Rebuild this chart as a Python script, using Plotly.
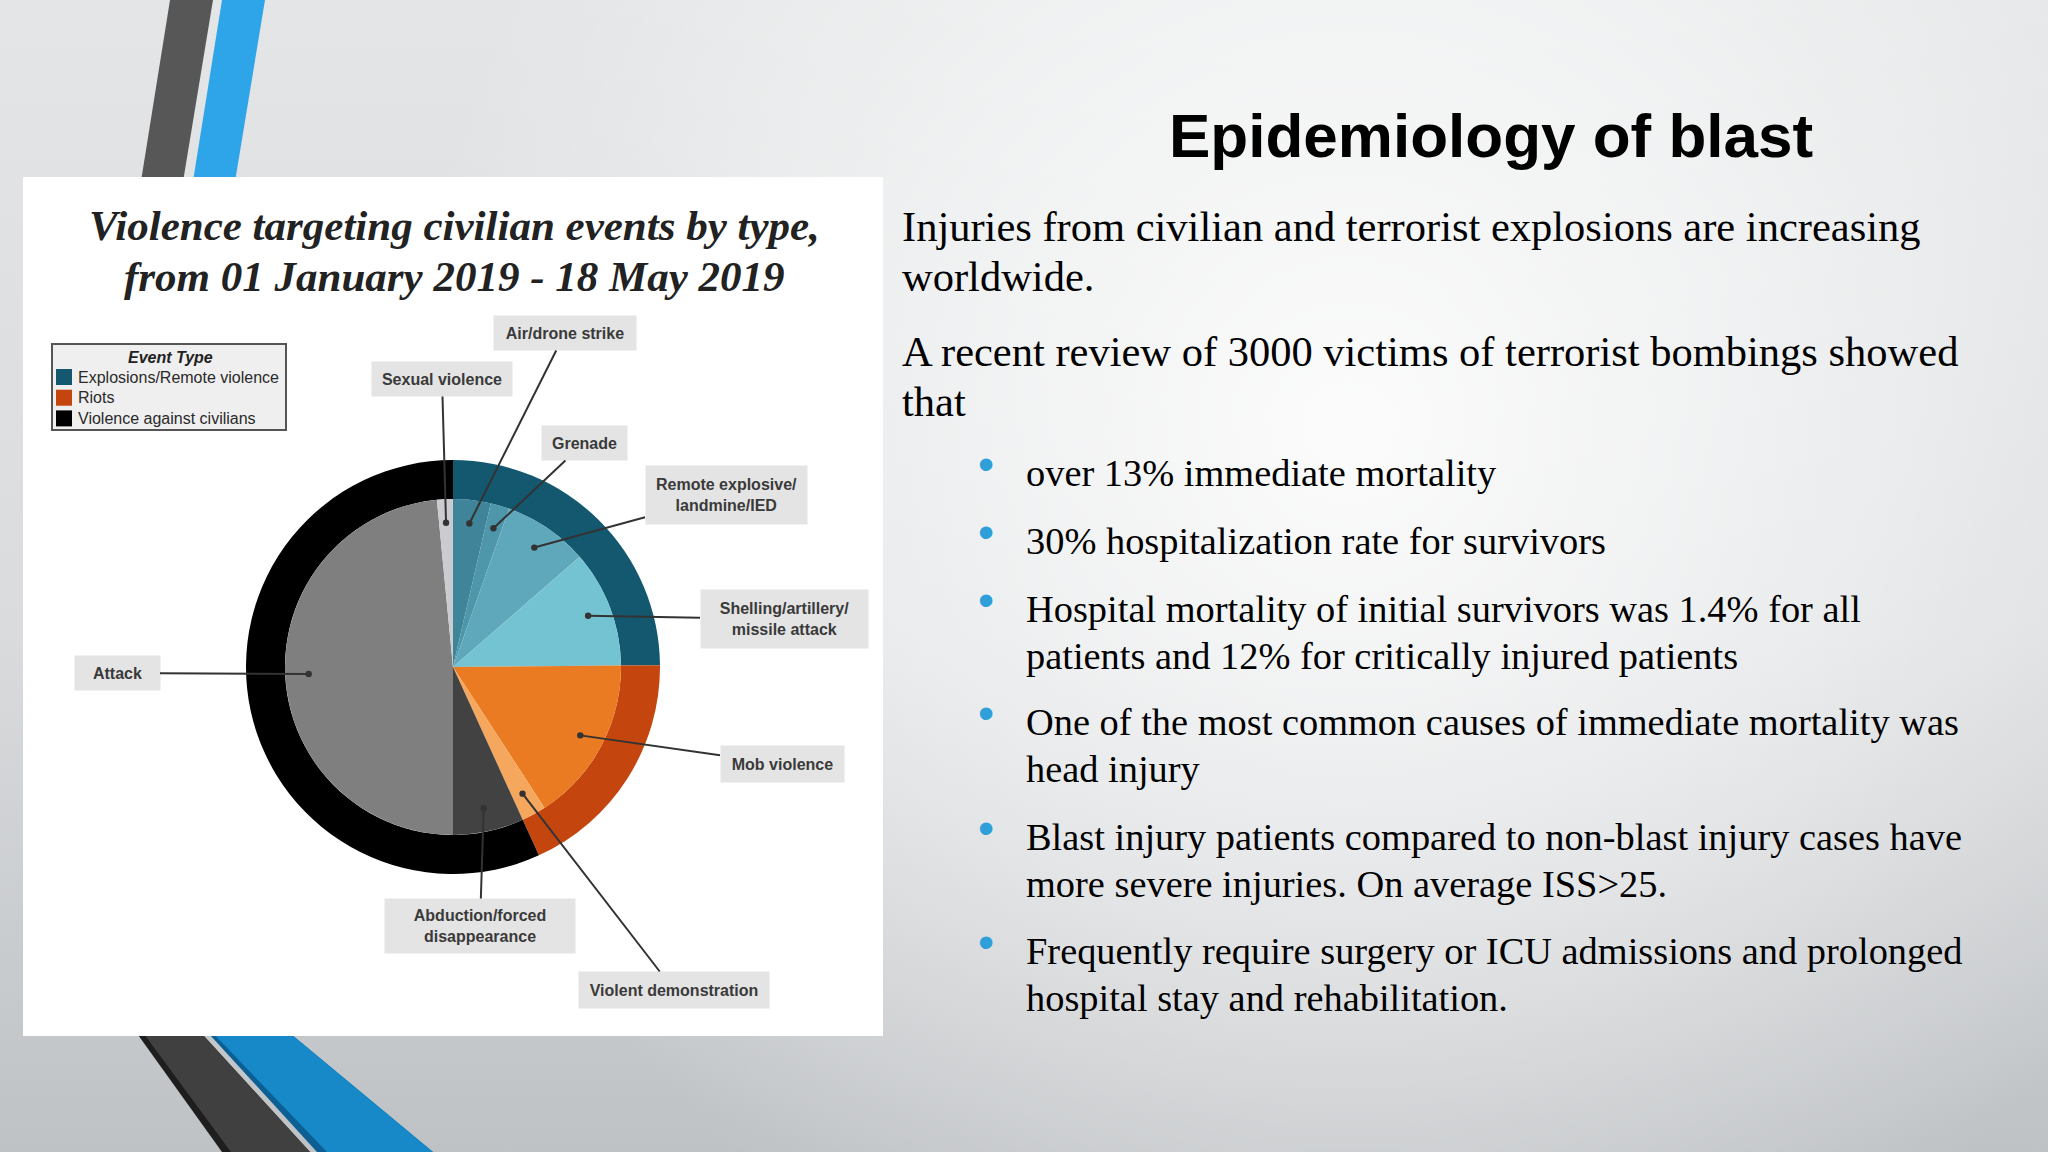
import math
import base64
import plotly.graph_objects as go

W, H = 2048, 1152

# ---------------- data ----------------
event_types = ["Explosions/Remote violence", "Riots", "Violence against civilians"]
event_colors = ["#14586f", "#c4460e", "#000000"]

sub_types = ["Air/drone strike", "Grenade", "Remote explosive/landmine/IED",
             "Shelling/artillery/missile attack", "Mob violence", "Violent demonstration",
             "Abduction/forced disappearance", "Attack", "Sexual violence"]
sub_labels = ["Air/drone strike", "Grenade", "Remote explosive/<br>landmine/IED",
              "Shelling/artillery/<br>missile attack", "Mob violence", "Violent demonstration",
              "Abduction/forced<br>disappearance", "Attack", "Sexual violence"]
sub_parent = ["Explosions/Remote violence"] * 4 + ["Riots"] * 2 + ["Violence against civilians"] * 3
sub_share = [3.61, 1.81, 8.19, 11.25, 15.97, 2.36, 6.81, 48.47, 1.53]
sub_colors = ["#3f8498", "#4e97aa", "#5fa8bb", "#74c3d3", "#ea7b22", "#f6a75e",
              "#424242", "#7f7f7f", "#cbcbd0"]

event_vals = [sum(v for v, p in zip(sub_share, sub_parent) if p == e) for e in event_types]

slide_title = "Epidemiology of blast"
chart_title = ["Violence targeting civilian events by type,", "from 01 January 2019 - 18 May 2019"]
para_lines = ["Injuries from civilian and terrorist explosions are increasing", "worldwide.",
              "A recent review of 3000 victims of terrorist bombings showed", "that"]
bullets = [
    ["over 13% immediate mortality"],
    ["30% hospitalization rate for survivors"],
    ["Hospital mortality of initial survivors was 1.4% for all", "patients and 12% for critically injured patients"],
    ["One of the most common causes of immediate mortality was", "head injury"],
    ["Blast injury patients compared to non-blast injury cases have", "more severe injuries. On average ISS&gt;25."],
    ["Frequently require surgery or ICU admissions and prolonged", "hospital stay and rehabilitation."],
]

# ---------------- layout geometry (pixels) ----------------
CX, CY = 453, 667
R_OUT, R_IN = 207, 168


def X(px):
    return px / W


def Y(py):
    return 1 - py / H


fig = go.Figure()

fig.add_trace(go.Pie(
    labels=event_types, values=event_vals, hole=R_IN / R_OUT, sort=False,
    direction="clockwise", rotation=0, textinfo="none", showlegend=False,
    marker=dict(colors=event_colors, line=dict(width=0)),
    domain=dict(x=[X(CX - R_OUT), X(CX + R_OUT)], y=[Y(CY + R_OUT), Y(CY - R_OUT)]),
))
fig.add_trace(go.Pie(
    labels=sub_types, values=sub_share, sort=False,
    direction="clockwise", rotation=0, textinfo="none", showlegend=False,
    marker=dict(colors=sub_colors, line=dict(width=0)),
    domain=dict(x=[X(CX - R_IN), X(CX + R_IN)], y=[Y(CY + R_IN), Y(CY - R_IN)]),
))

shapes = []
annotations = []

# background gradient
svg = f'''<svg xmlns="http://www.w3.org/2000/svg" width="{W}" height="{H}" viewBox="0 0 {W} {H}" preserveAspectRatio="none">
<defs>
<linearGradient id="lg" x1="0" y1="0" x2="0" y2="1">
<stop offset="0" stop-color="#e3e5e6"/><stop offset="0.55" stop-color="#d9dbdd"/><stop offset="1" stop-color="#bfc2c5"/>
</linearGradient>
<radialGradient id="rg" cx="1350" cy="430" r="950" gradientUnits="userSpaceOnUse">
<stop offset="0" stop-color="#ffffff" stop-opacity="0.9"/>
<stop offset="0.55" stop-color="#ffffff" stop-opacity="0.45"/>
<stop offset="1" stop-color="#ffffff" stop-opacity="0"/>
</radialGradient>
</defs>
<rect width="{W}" height="{H}" fill="url(#lg)"/>
<rect width="{W}" height="{H}" fill="url(#rg)"/>
</svg>'''
bg_src = "data:image/svg+xml;base64," + base64.b64encode(svg.encode()).decode()


def poly(pts, color):
    d = "M " + " L ".join(f"{X(a):.5f},{Y(b):.5f}" for a, b in pts) + " Z"
    shapes.append(dict(type="path", path=d, xref="paper", yref="paper",
                       fillcolor=color, line=dict(width=0), layer="below"))


# decorative stripes (top)
poly([(170, 0), (213, 0), (180, 200), (138, 200)], "#575757")
poly([(222, 0), (265, 0), (232, 200), (190, 200)], "#2ea5e8")
# decorative stripes (bottom)
poly([(113, 1000), (171, 1000), (310, 1152), (222, 1152)], "#1e1e1e")
poly([(119, 1000), (171, 1000), (310, 1152), (231, 1152)], "#404040")
poly([(178, 1000), (250, 1000), (433, 1152), (317, 1152)], "#0b5f93")
poly([(181, 1000), (250, 1000), (433, 1152), (327, 1152)], "#1789c8")

# white panel
shapes.append(dict(type="rect", xref="paper", yref="paper", x0=X(23), x1=X(883), y0=Y(1036), y1=Y(177),
                   fillcolor="#ffffff", line=dict(width=0), layer="below"))

# chart title
for i, t in enumerate(chart_title):
    annotations.append(dict(text=f"<b><i>{t}</i></b>", x=X(454), y=Y(225 + 51 * i), xref="paper", yref="paper",
                            showarrow=False, xanchor="center", yanchor="middle",
                            font=dict(family="Liberation Serif", size=43, color="#222222")))

# legend (manual, from event data)
shapes.append(dict(type="rect", xref="paper", yref="paper", x0=X(52), x1=X(286), y0=Y(430), y1=Y(344),
                   fillcolor="#efefef", line=dict(color="#555555", width=2), layer="below"))
annotations.append(dict(text="<b><i>Event Type</i></b>", x=X(170), y=Y(358), xref="paper", yref="paper",
                        showarrow=False, xanchor="center", yanchor="middle",
                        font=dict(family="Liberation Sans", size=16, color="#222222")))
for i, (name, col) in enumerate(zip(event_types, event_colors)):
    yy = 377 + 20.7 * i
    shapes.append(dict(type="rect", xref="paper", yref="paper", x0=X(56), x1=X(72), y0=Y(yy + 8), y1=Y(yy - 8),
                       fillcolor=col, line=dict(width=0), layer="below"))
    annotations.append(dict(text=name, x=X(76), y=Y(yy), xref="paper", yref="paper",
                            showarrow=False, xanchor="left", yanchor="middle",
                            font=dict(family="Liberation Sans", size=16, color="#2a2a2a")))

# slice labels with leader lines
label_boxes = {  # center x, center y, width, height (pixels)
    "Air/drone strike": (565, 333, 142, 34),
    "Grenade": (584, 443, 85, 34),
    "Remote explosive/landmine/IED": (726, 495, 161, 58),
    "Shelling/artillery/missile attack": (784, 619, 167, 58),
    "Mob violence": (782, 764, 123, 36),
    "Violent demonstration": (674, 990, 190, 36),
    "Abduction/forced disappearance": (480, 926, 190, 54),
    "Attack": (117, 673, 85, 34),
    "Sexual violence": (442, 379, 140, 34),
}
total = sum(sub_share)
cum = 0.0
for name, lab, v in zip(sub_types, sub_labels, sub_share):
    mid = (cum + v / 2) / total * 2 * math.pi
    cum += v
    r = 0.86 * R_IN
    dx = CX + r * math.sin(mid)
    dy = CY - r * math.cos(mid)
    bx, by, bw, bh = label_boxes[name]
    annotations.append(dict(
        text=f"<b>{lab}</b>", x=X(dx), y=Y(dy), xref="paper", yref="paper",
        ax=bx - dx, ay=by - dy, axref="pixel", ayref="pixel",
        showarrow=True, arrowhead=6, arrowsize=0.8, arrowwidth=2, arrowcolor="#333333",
        bgcolor="#e4e4e4", width=bw, height=bh, borderpad=0, align="center",
        font=dict(family="Liberation Sans", size=16, color="#3a3a3a")))

# slide title
annotations.append(dict(text=f"<b>{slide_title}</b>", x=X(1491), y=Y(135), xref="paper", yref="paper",
                        showarrow=False, xanchor="center", yanchor="middle",
                        font=dict(family="Liberation Sans", size=62, color="#000000")))

# paragraphs
para_y = [226, 276, 351, 401]
for t, yy in zip(para_lines, para_y):
    annotations.append(dict(text=t, x=X(900), y=Y(yy), xref="paper", yref="paper",
                            showarrow=False, xanchor="left", yanchor="middle",
                            font=dict(family="Liberation Serif", size=42.5, color="#000000")))

# bullets
bullet_y = [473, 541, 609, 722, 837, 951]
for lines, yy in zip(bullets, bullet_y):
    annotations.append(dict(text="•", x=X(986), y=Y(yy - 9), xref="paper", yref="paper",
                            showarrow=False, xanchor="center", yanchor="middle",
                            font=dict(family="Liberation Sans", size=46, color="#2e9fd9")))
    for j, t in enumerate(lines):
        annotations.append(dict(text=t, x=X(1024), y=Y(yy + 47 * j), xref="paper", yref="paper",
                                showarrow=False, xanchor="left", yanchor="middle",
                                font=dict(family="Liberation Serif", size=38.4, color="#000000")))

fig.update_layout(
    width=W, height=H, margin=dict(l=0, r=0, t=0, b=0),
    paper_bgcolor="#d9dbdd", plot_bgcolor="rgba(0,0,0,0)",
    shapes=shapes, annotations=annotations,
    images=[dict(source=bg_src, xref="paper", yref="paper", x=0, y=1, sizex=1, sizey=1,
                 sizing="stretch", layer="below", xanchor="left", yanchor="top")],
    showlegend=False,
)

fig.write_html("out.html", config={"displayModeBar": False},
               post_script="document.body.style.margin='0';document.body.style.overflow='hidden';")
